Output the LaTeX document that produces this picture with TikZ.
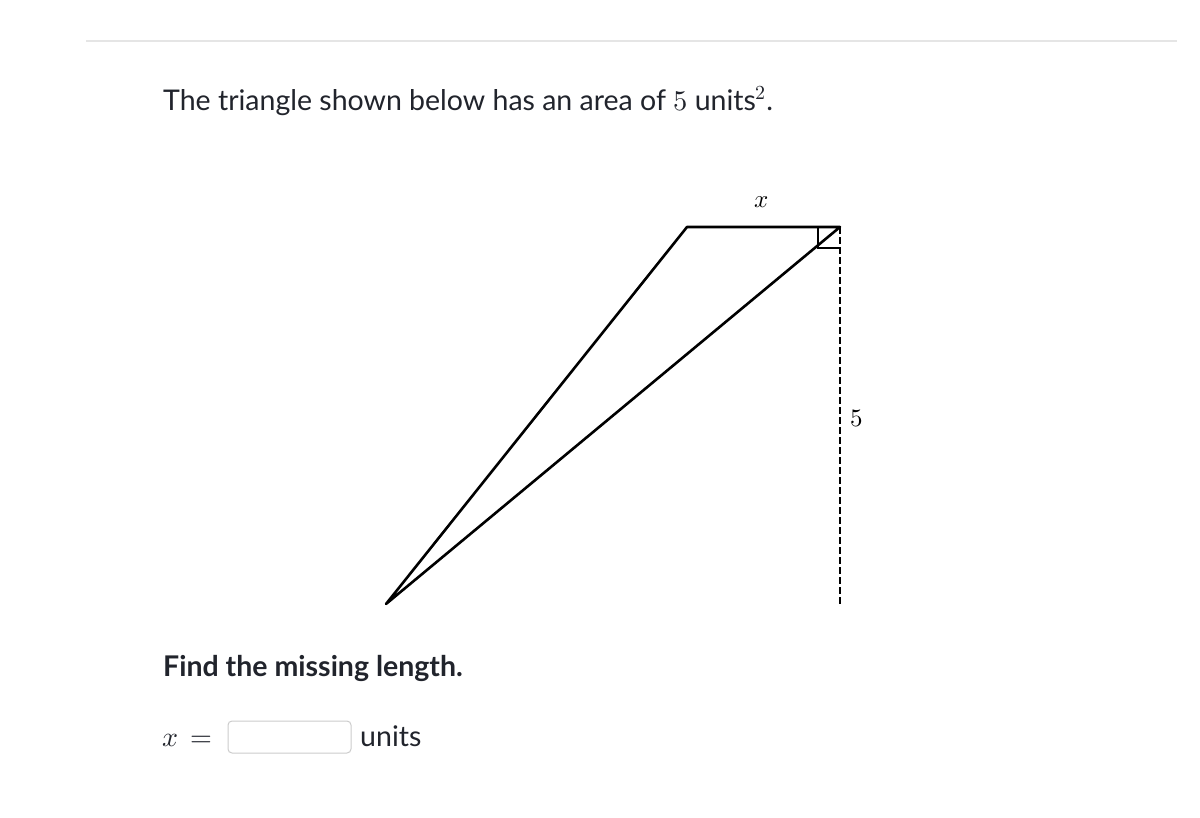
\documentclass[tikz,border=0pt]{standalone}
\usepackage{unicode-math}
\setmainfont{Lato}
\setmathfont{Latin Modern Math}
\definecolor{ink}{HTML}{21242C}
\begin{document}
\begin{tikzpicture}[x=1pt,y=-1pt,
  edge/.style={line width=2.6pt,line join=round,line cap=round},
  txt/.style={anchor=base west,inner sep=0pt,text=ink},
  lbl/.style={inner sep=0pt,font=\fontsize{25}{30}\selectfont}]
\useasboundingbox[fill=white] (0,0) rectangle (1200,817);
\draw[line width=1.5pt,black!10] (86,41) -- (1177,41);
\node[txt,font=\fontsize{28.5}{34}\selectfont] (title) at (163,110) {The triangle shown below has an area of $5$ units$^2$.};
% triangle
\coordinate (A) at (687,227);
\coordinate (B) at (840,227);
\coordinate (C) at (386,604);
\coordinate (D) at (840,604);
\draw[edge] (A) -- (B) -- (C) -- cycle;
\draw[line width=1.4pt] (818,227) -- (818,248) -- (840,248);
\draw[line width=2.8pt,dash pattern=on 6.5pt off 3.5pt] (B) -- (D);
\node[lbl] (xl) at (762,202) {$x$};
\node[lbl] (fl) at (857,418) {$5$};
\node[txt,font=\bfseries\fontsize{28.5}{34}\selectfont] (find) at (163,676) {Find the missing length.};
\node[txt,font=\fontsize{28}{32}\selectfont] (xeq) at (162,746) {\thickmuskip=8mu $x=$};
\node[draw=black!20,line width=1pt,rounded corners=4pt,minimum width=123pt,minimum height=32pt,inner sep=0pt] (box) at (289.5,737) {};
\node[txt,font=\fontsize{28.5}{34}\selectfont] (units) at (360,746) {units};
\end{tikzpicture}
\end{document}
